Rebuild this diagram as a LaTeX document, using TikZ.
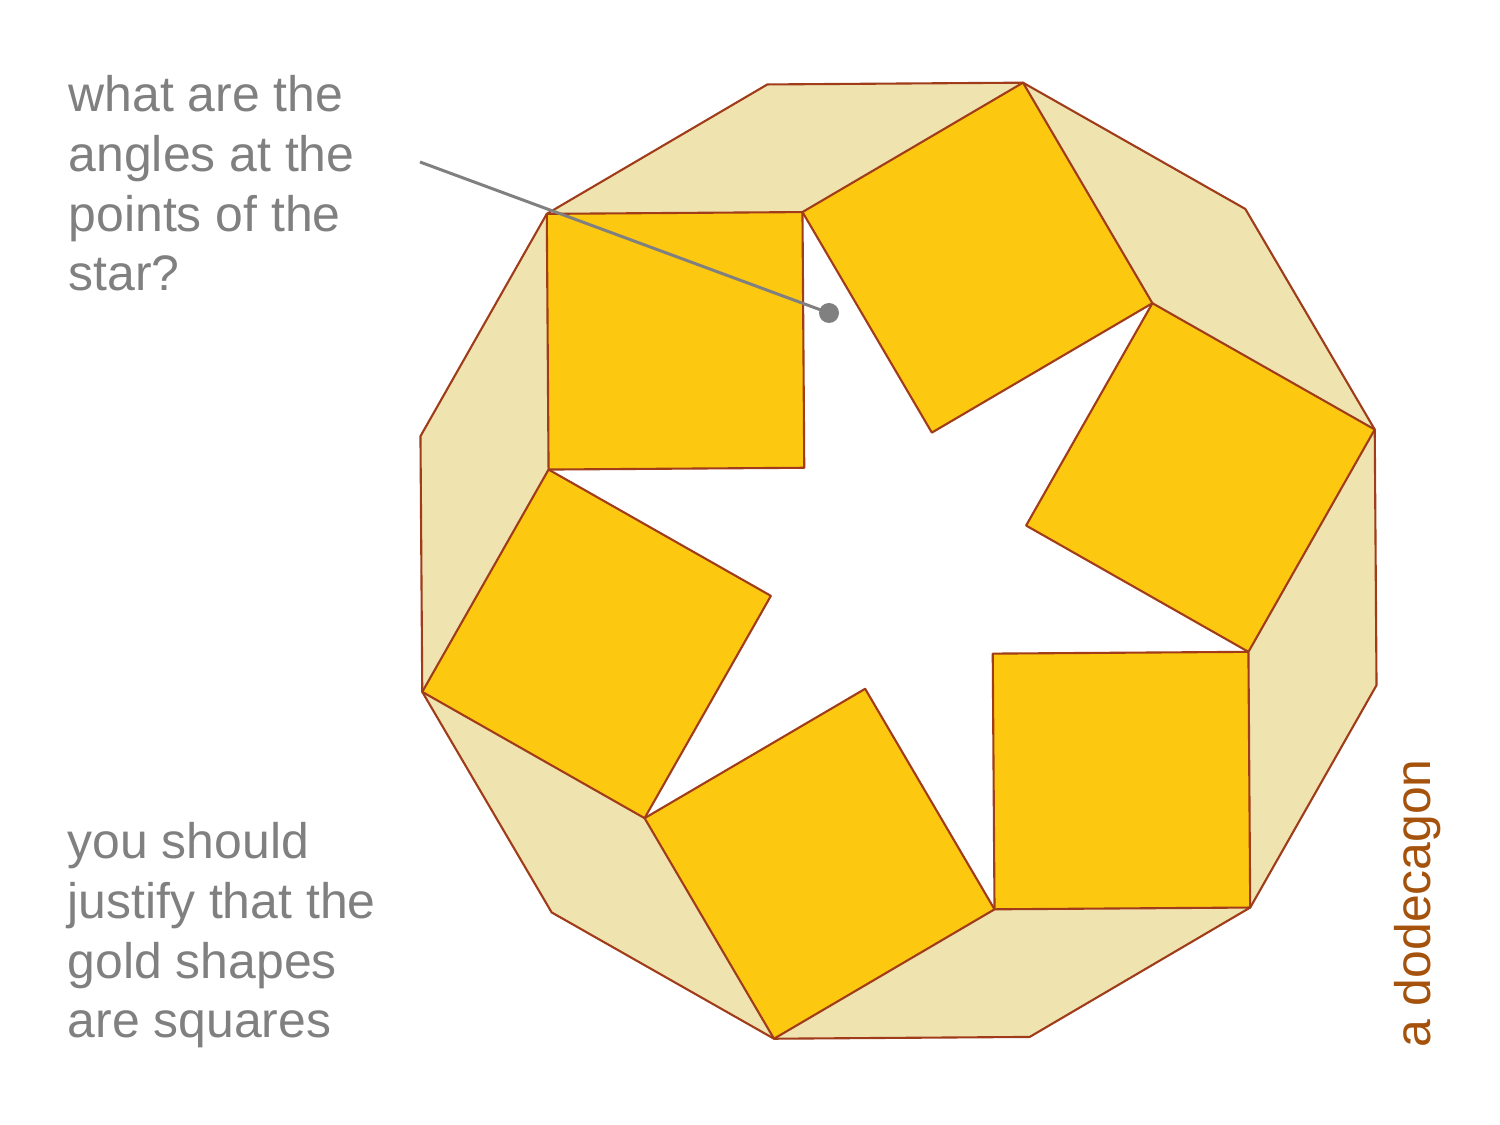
\documentclass[tikz,border=0pt]{standalone}
\usepackage{fontspec}
\setmainfont{Liberation Sans}
\usetikzlibrary{calc}
\usetikzlibrary{positioning}
\definecolor{edgebrown}{RGB}{160,60,25}
\definecolor{paleGold}{RGB}{239,227,176}
\definecolor{deepGold}{RGB}{253,200,16}
\definecolor{noteGray}{RGB}{128,128,128}
\definecolor{labelBrown}{RGB}{165,82,12}

\begin{document}
\begin{tikzpicture}[every node/.style={font=\fontsize{14.2}{17}\selectfont}]
  % styles for the tiles and the notes
  \tikzset{dodec/.style={draw=edgebrown, fill=paleGold, line width=0.6pt, line join=round},
           sqtile/.style={draw=edgebrown, fill=deepGold, line width=0.6pt, line join=round},
           note/.style={text=noteGray, align=left, inner sep=0pt, anchor=base west}}
  \useasboundingbox (0,0) rectangle (15,11.25);

  % dodecagon radius, side and a small tilt
  \def\R{4.94}
  \pgfmathsetmacro\s{2*\R*sin(15)}
  \def\rot{0.4}
  \coordinate (C) at (8.985,5.643);

  \draw[dodec] ($(C)+(15+\rot:\R)$)
    \foreach \i in {1,...,11} { -- ($(C)+(15+30*\i+\rot:\R)$) } -- cycle;

  % corners of the six squares
  \foreach \k in {0,...,5} {
    \pgfmathsetmacro\t{135-60*\k+\rot}
    \coordinate (P\k) at ($(C)+(\t:\R)$);
    \coordinate (M\k) at ($(P\k)+(\t+135:\s)$);
    \coordinate (N\k) at ($(P\k)+(\t+225:\s)$);
    \coordinate (I\k) at ($(M\k)+(\t+225:\s)$);
  }

  % the star in the middle stays white
  \fill[white] (I0) -- (N0) -- (I1) -- (N1) -- (I2) -- (N2) -- (I3) -- (N3)
    -- (I4) -- (N4) -- (I5) -- (N5) -- cycle;

  \foreach \k in {0,...,5}
    \draw[sqtile] (P\k) -- (M\k) -- (I\k) -- (N\k) -- cycle;

  % notes (base sits on the last line)
  \node[note] (question) at (0.68,8.34) {what are the\\angles at the\\points of the\\star?};
  \node[note] (task) at (0.67,0.87) {you should\\justify that the\\gold shapes\\are squares};
  \node[text=labelBrown, rotate=90, anchor=base, inner sep=0pt] (title) at (14.30,2.215) {a dodecagon};

  % pointer into the star
  \coordinate (ptr) at (4.20,9.63);
  \node[circle, fill=noteGray, inner sep=0pt, minimum size=0.2cm] (dot) at (8.29,8.12) {};
  \draw[noteGray, line width=0.85pt] (ptr) -- (dot.center);
\end{tikzpicture}
\end{document}
